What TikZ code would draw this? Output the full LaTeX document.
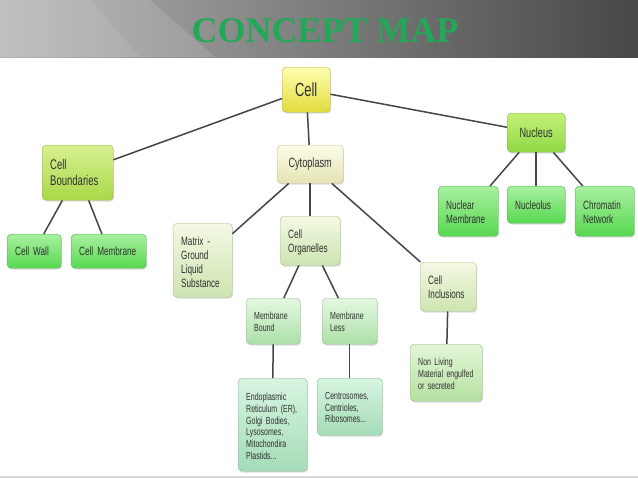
\documentclass[tikz,border=0pt]{standalone}
\usepackage{fontspec}
\setmainfont{Liberation Sans}[FakeStretch=0.68]
\newfontfamily\titlefont{Liberation Serif}
\usetikzlibrary{shadows}
\definecolor{ink}{HTML}{303030}
\definecolor{edgec}{HTML}{454545}
\definecolor{titlegreen}{HTML}{22A858}
\DeclareRobustCommand\tightsp{\spaceskip=0.18em\relax}

\begin{document}
\begin{tikzpicture}[x=1pt,y=-1pt,
  box/.style={draw, rounded corners=4pt, anchor=north west, text=ink,
    drop shadow={shadow xshift=1pt, shadow yshift=-1.5pt, opacity=0.25}},
  hub/.style={box, align=center, inner sep=0pt},
  cbox/.style={box, align=left, inner xsep=8pt, inner ysep=0pt},
  ed/.style={edgec, line width=1.5pt},
  fhuge/.style={font=\fontsize{19}{21}\selectfont},
  fbig/.style={font=\fontsize{14}{16.5}\selectfont\tightsp},
  fmid/.style={font=\fontsize{13.5}{15}\selectfont},
  fnorm/.style={font=\fontsize{12}{13.8}\selectfont\tightsp},
  fsm/.style={font=\fontsize{10.3}{11.7}\selectfont\tightsp},
  yel/.style={top color=yellow!30!white, bottom color={rgb,255:red,226;green,220;blue,60}, draw={rgb,255:red,184;green,176;blue,64}},
  lime/.style={top color={rgb,255:red,216;green,240;blue,144}, bottom color={rgb,255:red,168;green,216;blue,72}, draw={rgb,255:red,152;green,184;blue,72}},
  grn/.style={top color={rgb,255:red,196;green,240;blue,120}, bottom color={rgb,255:red,142;green,216;blue,69}, draw={rgb,255:red,128;green,184;blue,72}},
  leaf/.style={top color={rgb,255:red,168;green,240;blue,160}, bottom color={rgb,255:red,88;green,216;blue,80}, draw={rgb,255:red,80;green,176;blue,80}},
  cream/.style={top color={rgb,255:red,252;green,252;blue,232}, bottom color={rgb,255:red,228;green,228;blue,180}, draw={rgb,255:red,192;green,192;blue,152}},
  pale/.style={top color={rgb,255:red,244;green,249;blue,228}, bottom color={rgb,255:red,205;green,228;blue,176}, draw={rgb,255:red,168;green,192;blue,144}},
  memc/.style={top color={rgb,255:red,228;green,248;blue,224}, bottom color={rgb,255:red,172;green,224;blue,168}, draw={rgb,255:red,144;green,192;blue,144}},
  mint/.style={top color={rgb,255:red,216;green,244;blue,224}, bottom color={rgb,255:red,164;green,220;blue,184}, draw={rgb,255:red,136;green,184;blue,152}},
  nlv/.style={top color={rgb,255:red,228;green,246;blue,216}, bottom color={rgb,255:red,180;green,224;blue,160}, draw={rgb,255:red,152;green,192;blue,136}},
]
\useasboundingbox (0,0) rectangle (638,479);
\fill[white] (0,0) rectangle (638,479);

% header band
\fill[left color=black!30, right color=black!72] (0,0) rectangle (638,57);
\fill[white, opacity=0.12] (0,0) -- (150,0) -- (215,57) -- (0,57) -- cycle;
\fill[white, opacity=0.08] (0,0) -- (90,0) -- (140,57) -- (0,57) -- cycle;
\node[text=titlegreen, font=\titlefont\bfseries\fontsize{36}{40}\selectfont, anchor=base] (title) at (325,42) {CONCEPT MAP};
\draw[black!15, line width=2pt] (0,477) -- (638,477);

% concepts
\node[hub,yel,fhuge, minimum width=48pt, minimum height=45pt] (cell) at (282,67) {Cell};
\node[hub,cream,fmid, minimum width=66pt, minimum height=38pt] (cyto) at (277,145) {Cytoplasm};
\node[hub,grn,fmid, minimum width=58pt, minimum height=39pt] (nuc) at (507,113) {Nucleus};

\node[cbox,lime,fbig, text width=55pt, text height=24pt, text depth=31pt] (bound) at (42,145) {Cell\\Boundaries};
\node[cbox,leaf,fnorm, text width=38pt, text height=21.3pt, text depth=12.7pt] (wall) at (7,234) {Cell Wall};
\node[cbox,leaf,fnorm, text width=59pt, text height=21.3pt, text depth=12.7pt] (memb) at (71,234) {Cell Membrane};

\node[cbox,pale,fnorm, text width=43pt, text height=22.6pt, text depth=51.4pt] (matrix) at (173,223) {Matrix -\\Ground\\Liquid\\Substance};
\node[cbox,pale,fnorm, text width=44pt, text height=22.6pt, text depth=26.4pt] (organ) at (280,216) {Cell\\Organelles};
\node[cbox,pale,fnorm, text width=40pt, text height=22.6pt, text depth=26.4pt] (incl) at (420,262) {Cell\\Inclusions};

\node[cbox,leaf,fnorm, text width=44pt, text height=23.3pt, text depth=26.7pt] (nmem) at (438,186) {Nuclear\\Membrane};
\node[cbox,leaf,fnorm, text width=42pt, text height=23.3pt, text depth=13.7pt] (nucl) at (507,186) {Nucleolus};
\node[cbox,leaf,fnorm, text width=43pt, text height=23.3pt, text depth=26.7pt] (chrom) at (575,186) {Chromatin\\Network};

\node[cbox,memc,fsm, text width=38pt, text height=21.4pt, text depth=24.6pt] (mbound) at (246,298) {Membrane\\Bound};
\node[cbox,memc,fsm, text width=39pt, text height=21.4pt, text depth=24.6pt] (mless) at (322,298) {Membrane\\Less};

\node[cbox,mint,fsm, text width=53pt, text height=22.4pt, text depth=70.6pt] (er) at (238,378) {Endoplasmic\\Reticulum (ER),\\Golgi Bodies,\\Lysosomes,\\Mitochondira\\Plastids...};
\node[cbox,mint,fsm, text width=49pt, text height=21.1pt, text depth=35.9pt] (centro) at (317,378) {Centrosomes,\\Centrioles,\\Ribosomes...};
\node[cbox,nlv,fsm, text width=56pt, text height=21.4pt, text depth=35.6pt] (nonliv) at (410,344) {Non Living\\Material engulfed\\or secreted};

% links
\draw[ed] (cell) -- (bound);
\draw[ed] (cell) -- (cyto);
\draw[ed] (cell) -- (nuc);
\draw[ed] (bound) -- (wall);
\draw[ed] (bound) -- (memb);
\draw[ed] (cyto) -- (matrix);
\draw[ed] (cyto) -- (organ);
\draw[ed] (cyto) -- (incl);
\draw[ed] (organ) -- (mbound);
\draw[ed] (organ) -- (mless);
\draw[ed] (mbound) -- (er);
\draw[ed] (mless) -- (centro);
\draw[ed] (incl) -- (nonliv);
\draw[ed] (nuc) -- (nmem);
\draw[ed] (nuc) -- (nucl);
\draw[ed] (nuc) -- (chrom);
\end{tikzpicture}
\end{document}
